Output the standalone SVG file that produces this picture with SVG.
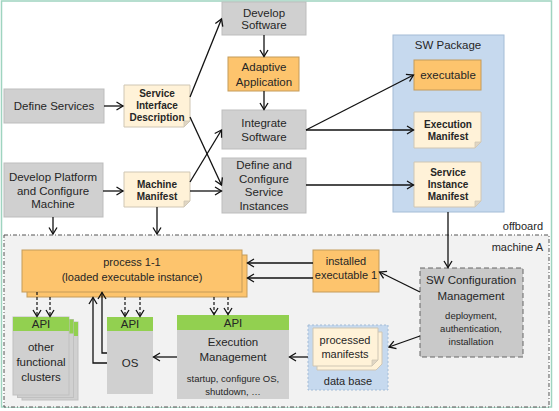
<svg xmlns="http://www.w3.org/2000/svg" width="559" height="411" viewBox="0 0 559 411">
<defs>
<style>
text{font-family:"Liberation Sans",Arial,sans-serif;fill:#262626;text-anchor:middle;dominant-baseline:central}
.t12{font-size:11.5px}
.t11{font-size:11px}
.t9{font-size:9.5px}
.b{font-weight:bold;font-size:10px}
.gray{fill:#d0d0d0;stroke:#bdbdbd;stroke-width:1}
.org{fill:#fdc46d;stroke:#c49b5a;stroke-width:1}
.note{fill:#fff2d8;stroke:#cfc6b4;stroke-width:1}
.fold{fill:#e0d6c4;stroke:#cfc6b4;stroke-width:0.8}
.api{fill:#92d050}
.ln{stroke:#111;stroke-width:1.3;fill:none}
.dl{stroke:#111;stroke-width:1.2;fill:none;stroke-dasharray:3 2}
</style>
<marker id="a" markerWidth="10" markerHeight="10" refX="8" refY="5" orient="auto" markerUnits="userSpaceOnUse">
<path d="M1.5,1 L8,5 L1.5,9" fill="none" stroke="#111" stroke-width="1.3"/>
</marker>
</defs>
<rect width="559" height="411" fill="#fff"/>
<rect x="1.5" y="1" width="550" height="406" fill="none" stroke="#9fd4c0" stroke-width="1.5"/>

<g id="machineA">
<rect x="4" y="235" width="545" height="172" fill="#f2f2f2" stroke="#555" stroke-width="1" stroke-dasharray="4 2 1 2"/>
<text class="t11" x="543" y="247" style="text-anchor:end">machine A</text>
</g>
<text class="t11" x="543" y="226" style="text-anchor:end">offboard</text>

<g id="swpackage">
<rect x="393" y="35" width="111" height="177" fill="#c6d9ee" stroke="#a4bcd6"/>
<text class="t12" x="448" y="45">SW Package</text>
</g>

<g id="defineServices">
<rect class="gray" x="4" y="89" width="100" height="34"/>
<text class="t12" x="54" y="106">Define Services</text>
</g>
<g id="developPlatform">
<rect class="gray" x="4" y="163" width="99" height="54"/>
<text class="t12" x="53" y="177">Develop Platform</text>
<text class="t12" x="53" y="191">and Configure</text>
<text class="t12" x="53" y="204">Machine</text>
</g>
<g id="sid">
<path class="note" d="M124,85 H190 V121 L184,127 H124 Z"/>
<path class="fold" d="M190,121 L184,121 L184,127 Z"/>
<text class="b" x="157" y="93">Service</text>
<text class="b" x="157" y="105">Interface</text>
<text class="b" x="157" y="117">Description</text>
</g>
<g id="machineManifest">
<path class="note" d="M124,172 H190 V201 L184,207 H124 Z"/>
<path class="fold" d="M190,201 L184,201 L184,207 Z"/>
<text class="b" x="157" y="184">Machine</text>
<text class="b" x="157" y="196">Manifest</text>
</g>
<g id="developSoftware">
<rect class="gray" x="222" y="2" width="84" height="33"/>
<text class="t12" x="264" y="13">Develop</text>
<text class="t12" x="264" y="25">Software</text>
</g>
<g id="adaptive">
<rect class="org" x="228" y="57" width="71" height="34"/>
<text class="t12" x="264" y="67">Adaptive</text>
<text class="t12" x="264" y="82">Application</text>
</g>
<g id="integrate">
<rect class="gray" x="222" y="110" width="84" height="39"/>
<text class="t12" x="264" y="123">Integrate</text>
<text class="t12" x="264" y="137">Software</text>
</g>
<g id="defineConfigure">
<rect class="gray" x="222" y="158" width="84" height="55"/>
<text class="t12" x="264" y="165">Define and</text>
<text class="t12" x="264" y="179">Configure</text>
<text class="t12" x="264" y="192">Service</text>
<text class="t12" x="264" y="206">Instances</text>
</g>
<g id="executable">
<rect class="org" x="414" y="60" width="67" height="30"/>
<text class="t12" x="448" y="75">executable</text>
</g>
<g id="executionManifest">
<path class="note" d="M414,112 H481 V142 L475,148 H414 Z"/>
<path class="fold" d="M481,142 L475,142 L475,148 Z"/>
<text class="b" x="448" y="124">Execution</text>
<text class="b" x="448" y="136">Manifest</text>
</g>
<g id="serviceInstanceManifest">
<path class="note" d="M414,162 H481 V201 L475,207 H414 Z"/>
<path class="fold" d="M481,201 L475,201 L475,207 Z"/>
<text class="b" x="448" y="172">Service</text>
<text class="b" x="448" y="184">Instance</text>
<text class="b" x="448" y="196">Manifest</text>
</g>

<g id="process">
<rect class="org" x="27" y="255" width="220" height="42"/>
<rect class="org" x="22" y="250" width="220" height="42"/>
<text class="t11" x="132" y="262">process 1-1</text>
<text class="t11" x="132" y="277">(loaded executable instance)</text>
</g>
<g id="installed">
<rect class="org" x="313" y="250" width="66" height="42"/>
<text class="t11" x="346" y="261">installed</text>
<text class="t11" x="346" y="275">executable 1</text>
</g>
<g id="swConfig">
<rect x="420" y="268" width="103" height="89" fill="#c9c9c9" stroke="#666" stroke-dasharray="5 3"/>
<text class="t12" x="471" y="280">SW Configuration</text>
<text class="t12" x="471" y="296">Management</text>
<text class="t9" x="471" y="315">deployment,</text>
<text class="t9" x="471" y="328">authentication,</text>
<text class="t9" x="471" y="341">installation</text>
</g>
<g id="database">
<rect x="308" y="325" width="80" height="65" fill="#c6d9ee" stroke="#a4bcd6" stroke-dasharray="2 2"/>
<path class="note" d="M317,332 H382 V364 L376,370 H317 Z"/>
<path class="note" d="M313,328 H378 V360 L372,366 H313 Z"/>
<path class="fold" d="M378,360 L372,360 L372,366 Z"/>
<text class="t11" x="345" y="340">processed</text>
<text class="t11" x="345" y="354">manifests</text>
<text class="t11" x="348" y="381">data base</text>
</g>
<g id="otherClusters">
<rect class="gray" x="22" y="322" width="56" height="78" style="stroke:#c0c0c0"/>
<rect class="api" x="22" y="322" width="56" height="14"/>
<rect class="gray" x="17.5" y="319.5" width="56" height="78" style="stroke:#c0c0c0"/>
<rect class="api" x="17.5" y="319.5" width="56" height="14"/>
<rect class="gray" x="13" y="317" width="56" height="78" style="stroke:#c0c0c0"/>
<rect class="api" x="13" y="317" width="56" height="14"/>
<text class="t12" x="41" y="324">API</text>
<text class="t12" x="41" y="347">other</text>
<text class="t12" x="41" y="362">functional</text>
<text class="t12" x="41" y="377">clusters</text>
</g>
<g id="os">
<rect x="107" y="317" width="46" height="77" fill="#d0d0d0"/>
<rect class="api" x="107" y="317" width="46" height="14"/>
<text class="t12" x="130" y="324">API</text>
<text class="t12" x="130" y="363">OS</text>
</g>
<g id="execMgmt">
<rect x="177" y="315" width="112" height="84" fill="#d0d0d0"/>
<rect class="api" x="177" y="315" width="112" height="15"/>
<text class="t12" x="233" y="323">API</text>
<text class="t12" x="233" y="342">Execution</text>
<text class="t12" x="233" y="357">Management</text>
<text class="t9" x="233" y="378">startup, configure OS,</text>
<text class="t9" x="233" y="391">shutdown, …</text>
</g>

<g id="connectors">
<line class="ln" x1="104" y1="106" x2="123" y2="106" marker-end="url(#a)"/>
<line class="ln" x1="103" y1="191" x2="123" y2="191" marker-end="url(#a)"/>
<line class="ln" x1="190" y1="97" x2="221.5" y2="19" marker-end="url(#a)"/>
<line class="ln" x1="190" y1="117" x2="221.5" y2="185" marker-end="url(#a)"/>
<line class="ln" x1="190" y1="182" x2="221.5" y2="130" marker-end="url(#a)"/>
<line class="ln" x1="190" y1="191" x2="221.5" y2="191" marker-end="url(#a)"/>
<line class="ln" x1="264" y1="35" x2="264" y2="56.5" marker-end="url(#a)"/>
<line class="ln" x1="264" y1="91" x2="264" y2="109.5" marker-end="url(#a)"/>
<line class="ln" x1="306" y1="130" x2="413.5" y2="75" marker-end="url(#a)"/>
<line class="ln" x1="306" y1="130" x2="413.5" y2="130" marker-end="url(#a)"/>
<line class="ln" x1="306" y1="185" x2="413.5" y2="185" marker-end="url(#a)"/>
<line class="ln" x1="53" y1="217" x2="53" y2="234" marker-end="url(#a)"/>
<line class="ln" x1="157" y1="207" x2="157" y2="234" marker-end="url(#a)"/>
<line class="ln" x1="448" y1="212" x2="448" y2="267.5" marker-end="url(#a)"/>
<line class="ln" x1="313" y1="263" x2="247.5" y2="263" marker-end="url(#a)"/>
<line class="ln" x1="313" y1="278" x2="247.5" y2="278" marker-end="url(#a)"/>
<line class="ln" x1="420" y1="292" x2="379.5" y2="272" marker-end="url(#a)"/>
<line class="ln" x1="420" y1="336" x2="389" y2="347" marker-end="url(#a)"/>
<line class="ln" x1="308" y1="357" x2="289.5" y2="357" marker-end="url(#a)"/>
<line class="ln" x1="177" y1="357" x2="153.5" y2="357" marker-end="url(#a)"/>
<path class="ln" d="M107,363 H93 V297.5" marker-end="url(#a)"/>
<path class="ln" d="M107,353 H102 V292.5" marker-end="url(#a)"/>
<line class="dl" x1="37" y1="292" x2="37" y2="316.5" marker-end="url(#a)"/>
<line class="dl" x1="50" y1="297" x2="50" y2="316.5" marker-end="url(#a)"/>
<line class="dl" x1="125" y1="297" x2="125" y2="316.5" marker-end="url(#a)"/>
<line class="dl" x1="140" y1="297" x2="140" y2="316.5" marker-end="url(#a)"/>
<line class="dl" x1="214" y1="297" x2="214" y2="314.5" marker-end="url(#a)"/>
<line class="dl" x1="228" y1="297" x2="228" y2="314.5" marker-end="url(#a)"/>
</g>
</svg>
